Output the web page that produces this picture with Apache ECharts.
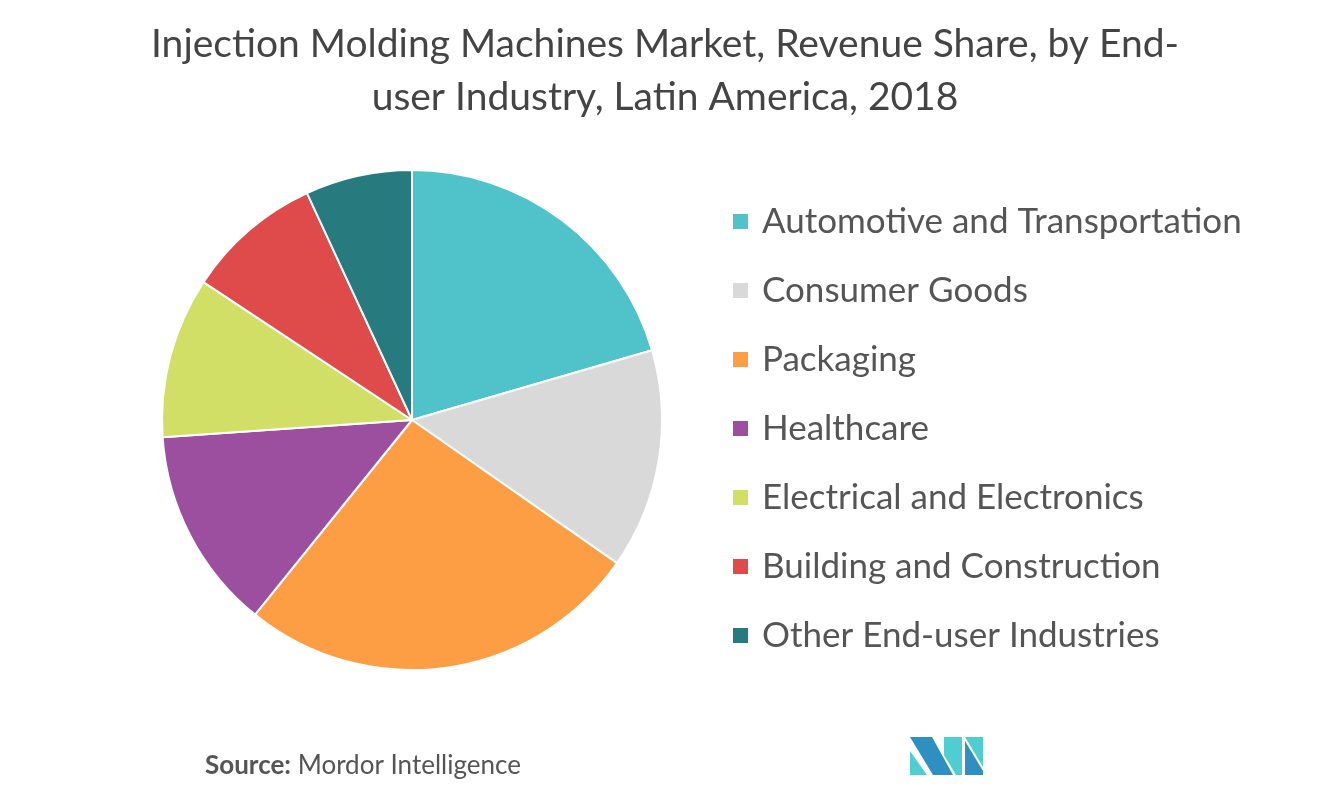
<!DOCTYPE html>
<html>
<head>
<meta charset="utf-8">
<script src="https://cdn.jsdelivr.net/npm/echarts@6/dist/echarts.min.js"></script>
<style>html,body{margin:0;padding:0;background:#fff;}#c{width:1322px;height:803px;}</style>
</head>
<body>
<div id="c"></div>
<script>
const categories = ["Automotive and Transportation","Consumer Goods","Packaging","Healthcare","Electrical and Electronics","Building and Construction","Other End-user Industries"];
const shares = [20.5, 14.2, 26.1, 13.1, 10.4, 8.8, 6.9];
const colors = ["#50c3ca","#d9d9d9","#fd9e45","#9b4f9e","#d1df66","#df4a4b","#277b7f"];

const chart = echarts.init(document.getElementById('c'), null, {renderer:'canvas'});
chart.setOption({
  animation: false,
  backgroundColor: '#fff',
  title: {
    text: 'Injection Molding Machines Market, Revenue Share, by End-\nuser Industry, Latin America, 2018',
    top: 13, left: 660, textAlign: 'center',
    textStyle: {fontFamily: 'Lato', fontSize: 39, fontWeight: 'normal', color: '#444', lineHeight: 53}
  },
  legend: {
    orient: 'vertical', left: 726, top: 199,
    itemWidth: 17, itemHeight: 17, itemGap: 34,
    icon: 'rect',
    selectedMode: false,
    data: categories,
    textStyle: {fontFamily: 'Lato', fontSize: 35, color: '#555', padding: [0,0,0,8], lineHeight: 35}
  },
  series: [{
    type: 'pie',
    center: [412, 420],
    radius: [0, 250],
    startAngle: 90,
    clockwise: true,
    label: {show: false},
    labelLine: {show: false},
    itemStyle: {borderColor: '#fff', borderWidth: 2},
    emphasis: {disabled: true},
    data: categories.map((n, i) => ({name: n, value: shares[i], itemStyle: {color: colors[i]}}))
  }],
  graphic: [
    {type: 'text', left: 205, top: 753, style: {text: '{b|Source:} Mordor Intelligence', rich: {b: {fontWeight: 'bold', fontFamily: 'Lato', fontSize: 26, fill: '#555'}}, fontFamily: 'Lato', fontSize: 26, fill: '#555'}},
    {type: 'group', left: 910, top: 737, children: [
      {type: 'polygon', shape: {points: [[0,0],[22,0],[43,38],[23,38],[0,0]]}, style: {fill: '#2e8fc0'}},
      {type: 'polygon', shape: {points: [[0,14],[0,38],[17,38]]}, style: {fill: '#4fcdd1'}},
      {type: 'polygon', shape: {points: [[34,0],[52,0],[52,38],[46,38],[34,18]]}, style: {fill: '#4fcdd1'}},
      {type: 'polygon', shape: {points: [[55,0],[73,0],[73,30]]}, style: {fill: '#4fcdd1'}},
      {type: 'polygon', shape: {points: [[55,4],[73,34],[73,38],[55,38]]}, style: {fill: '#2e8fc0'}}
    ]}
  ]
});
</script>
</body>
</html>
